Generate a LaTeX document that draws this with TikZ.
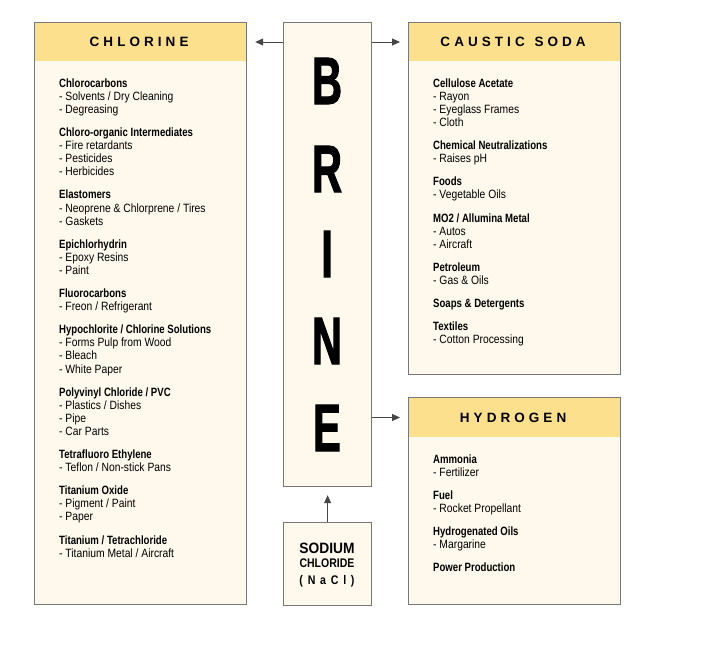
\documentclass[tikz,border=0pt]{standalone}
\usepackage{fontspec}
\setmainfont{Liberation Sans}
\newfontfamily\rgf[FakeStretch=0.86]{Liberation Sans}
\newfontfamily\bdf[FakeStretch=0.8]{Liberation Sans}
\newfontfamily\hdf[LetterSpace=30]{Liberation Sans}
\newfontfamily\brf[FakeStretch=0.62,FakeBold=1.5]{Liberation Sans}
\newfontfamily\naa[FakeStretch=0.92]{Liberation Sans}
\newfontfamily\nab[FakeStretch=0.84]{Liberation Sans}
\newfontfamily\nac[FakeStretch=0.85,LetterSpace=38]{Liberation Sans}
\usetikzlibrary{arrows.meta}
\definecolor{hdrcol}{RGB}{253,224,142}
\definecolor{bodycol}{RGB}{254,249,236}
\definecolor{edgecol}{RGB}{120,120,120}
\definecolor{arrcol}{RGB}{70,70,70}
\newcommand\grp[1]{{\bdf\bfseries #1}}
\newcommand\ls{\rule{0pt}{10pt}}
\begin{document}
\begin{tikzpicture}[x=1pt,y=-1pt,
  panel/.style={draw=edgecol,line width=1.2pt,fill=bodycol,inner sep=0pt,anchor=north west},
  hdr/.style={fill=hdrcol,inner sep=0pt,anchor=north,minimum width=210.8pt,font=\hdf\bfseries\fontsize{13.5}{16}\selectfont},
  list/.style={anchor=north west,inner sep=0pt,align=left,font=\rgf\fontsize{12}{13.1}\selectfont},
  brl/.style={anchor=base,inner sep=0pt,font=\brf\bfseries\fontsize{67}{67}\selectfont},
  arr/.style={draw=arrcol,line width=0.9pt,-{Triangle[length=8pt,width=7pt]},shorten >=8pt}]
\useasboundingbox (0,0) rectangle (705,672);
% panels
\node[panel,minimum width=212pt,minimum height=582pt] (chl) at (34,22) {};
\node[hdr,minimum height=38.4pt] (chlh) at ([yshift=-0.6pt]chl.north) {\hspace{-3pt}CHLORINE};
\node[panel,minimum width=212pt,minimum height=352pt] (cs) at (408,22) {};
\node[hdr,minimum height=38.4pt] (csh) at ([yshift=-0.6pt]cs.north) {\hspace{-3pt}CAUSTIC\hspace{2pt} SODA};
\node[panel,minimum width=212pt,minimum height=207pt] (hy) at (408,397) {};
\node[hdr,minimum height=39.4pt] (hyh) at ([yshift=-0.6pt]hy.north) {\hspace{-3pt}HYDROGEN};
\node[panel,minimum width=88pt,minimum height=464pt] (brine) at (283,22) {};
\node[panel,minimum width=88pt,minimum height=83pt] (nacl) at (283,522) {};
% brine letters
\node[brl] (b1) at (327,104) {B};
\node[brl] (b2) at (327,192) {R};
\node[brl] (b3) at (327,277) {I};
\node[brl] (b4) at (327,364) {N};
\node[brl] (b5) at (327,451) {E};
% sodium chloride
\node[anchor=base,inner sep=0pt,font=\naa\bfseries\fontsize{15}{15}\selectfont] (na1) at (327,553) {SODIUM};
\node[anchor=base,inner sep=0pt,font=\nab\bfseries\fontsize{12.5}{12.5}\selectfont] (na2) at (327,567) {CHLORIDE};
\node[anchor=base,inner sep=0pt,font=\nac\bfseries\fontsize{12.5}{12.5}\selectfont] (na3) at (327,584) {(NaCl)};
% lists
\node[list] (chll) at (59,77) {\ls\grp{Chlorocarbons}\\- Solvents / Dry Cleaning\\- Degreasing\\[10pt]%
\grp{Chloro-organic Intermediates}\\- Fire retardants\\- Pesticides\\- Herbicides\\[10pt]%
\grp{Elastomers}\\- Neoprene \& Chlorprene / Tires\\- Gaskets\\[10pt]%
\grp{Epichlorhydrin}\\- Epoxy Resins\\- Paint\\[10pt]%
\grp{Fluorocarbons}\\- Freon / Refrigerant\\[10pt]%
\grp{Hypochlorite / Chlorine Solutions}\\- Forms Pulp from Wood\\- Bleach\\- White Paper\\[10pt]%
\grp{Polyvinyl Chloride / PVC}\\- Plastics / Dishes\\- Pipe\\- Car Parts\\[10pt]%
\grp{Tetrafluoro Ethylene}\\- Teflon / Non-stick Pans\\[10pt]%
\grp{Titanium Oxide}\\- Pigment / Paint\\- Paper\\[10pt]%
\grp{Titanium / Tetrachloride}\\- Titanium Metal / Aircraft};
\node[list] (csl) at (433,77) {\ls\grp{Cellulose Acetate}\\- Rayon\\- Eyeglass Frames\\- Cloth\\[10pt]%
\grp{Chemical Neutralizations}\\- Raises pH\\[10pt]%
\grp{Foods}\\- Vegetable Oils\\[10pt]%
\grp{MO2 / Allumina Metal}\\- Autos\\- Aircraft\\[10pt]%
\grp{Petroleum}\\- Gas \& Oils\\[10pt]%
\grp{Soaps \& Detergents}\\[10pt]%
\grp{Textiles}\\- Cotton Processing};
\node[list] (hyl) at (433,453) {\ls\grp{Ammonia}\\- Fertilizer\\[10pt]%
\grp{Fuel}\\- Rocket Propellant\\[10pt]%
\grp{Hydrogenated Oils}\\- Margarine\\[10pt]%
\grp{Power Production}};
% arrows
\draw[arr] (brine.west |- chlh.center) -- (chl.east |- chlh.center);
\draw[arr] (brine.east |- csh.center) -- (cs.west |- csh.center);
\draw[arr] (brine.east |- hyh.center) -- (hy.west |- hyh.center);
\draw[arr] (nacl.north) -- (brine.south);
\end{tikzpicture}
\end{document}
